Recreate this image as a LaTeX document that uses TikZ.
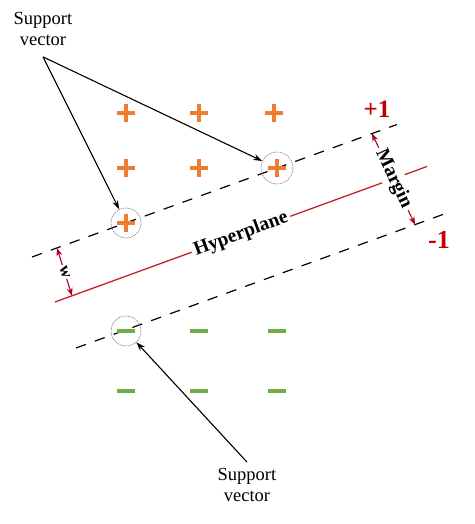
\documentclass[tikz,border=0pt]{standalone}
\usepackage{fontspec}
\setmainfont{Liberation Serif}
\usetikzlibrary{arrows.meta}
\definecolor{plusc}{HTML}{ED7D31}
\definecolor{minusc}{HTML}{70AD47}
\definecolor{hypc}{HTML}{C8202A}
\definecolor{dimc}{HTML}{B00020}
\definecolor{labc}{HTML}{C00000}
\tikzset{
  plusmark/.style={minimum size=18pt, inner sep=0pt, path picture={
    \fill[plusc] ([yshift=-2.3pt]path picture bounding box.west) rectangle ([yshift=2.3pt]path picture bounding box.east);
    \fill[plusc] ([xshift=-2.3pt]path picture bounding box.south) rectangle ([xshift=2.3pt]path picture bounding box.north);}},
  minusmark/.style={rectangle, minimum width=18pt, minimum height=4.2pt, inner sep=0pt, fill=minusc},
  svcircle/.style={circle, draw=gray, line width=0.6pt, dash pattern=on 1.5pt off 0.8pt, minimum size=#1, inner sep=0pt},
  svcircle/.default=30pt,
  margline/.style={draw=black, line width=1.2pt, dash pattern=on 10.5pt off 9.5pt},
  hypline/.style={draw=hypc, line width=1.3pt},
  svarrow/.style={draw=black, line width=1.1pt, -{Stealth[length=9pt,width=6pt]}},
  dimarrow/.style={draw=dimc, line width=1.1pt, {Stealth[length=8pt,width=6pt]}-{Stealth[length=8pt,width=6pt]}},
  svlabel/.style={align=center, font=\fontsize{18.5}{21}\selectfont, inner sep=2pt},
  boldlab/.style={font=\fontsize{19.5}{21}\selectfont\bfseries, fill=white, inner sep=3pt},
  classlab/.style={text=labc, inner sep=0pt}
}
\begin{document}
\begin{tikzpicture}[x=1pt, y=-1pt]
\useasboundingbox (0,0) rectangle (474,524);
% points of the lines
\coordinate (t1) at (32,257);   \coordinate (t2) at (397,124.5);
\coordinate (b1) at (76,348);   \coordinate (b2) at (447,213);
\coordinate (h1) at (55,302);   \coordinate (h2) at (427,166.5);
% lines
\draw[margline] (t1) -- (t2);
\draw[margline] (b1) -- (b2);
\draw[hypline] (h1) -- (h2);
\node[boldlab, rotate=20] (hyp) at (241,234.3) {Hyperplane};
% plus class
\node[plusmark] (p1) at (126,113) {};
\node[plusmark] (p2) at (199,113) {};
\node[plusmark] (p3) at (274,113) {};
\node[plusmark] (p4) at (126,168) {};
\node[plusmark] (p5) at (199,168) {};
\node[plusmark] (p6) at (277,168) {};
\node[plusmark] (p7) at (126,223) {};
% minus class
\node[minusmark] (m1) at (126,331) {};
\node[minusmark] (m2) at (199,331) {};
\node[minusmark] (m3) at (277,331) {};
\node[minusmark] (m4) at (126,391) {};
\node[minusmark] (m5) at (199,391) {};
\node[minusmark] (m6) at (277,391) {};
% support vector circles
\node[svcircle=30pt] (c1) at (126,223) {};
\node[svcircle=32pt] (c2) at (277,168) {};
\node[svcircle=30pt] (c3) at (126,331) {};
% labels
\node[svlabel] (sv1) at (43,29) {Support\\vector};
\node[svlabel] (sv2) at (247,485) {Support\\vector};
\draw[svarrow] ([yshift=-9pt]sv1.south) -- (c1);
\draw[svarrow] ([yshift=-9pt]sv1.south) -- (c2);
\draw[svarrow] ([yshift=4pt]sv2.north) -- (c3);
% margin
\coordinate (mt) at (372,133.5);
\coordinate (mb) at (415,224.7);
\draw[dimarrow] (mt) -- node[boldlab, sloped] (marg) {Margin} (mb);
\coordinate (wt) at (57,248);
\coordinate (wb) at (72,295.8);
\draw[dimarrow] (wt) -- node[sloped, fill=white, inner sep=1pt, font=\fontsize{17}{17}\selectfont\bfseries] (wl) {w} (wb);
\node[classlab, font=\fontsize{25}{25}\selectfont\bfseries] (pl) at (377,109.5) {+1};
\node[classlab, font=\fontsize{26}{26}\selectfont\bfseries] (ml) at (439,240) {-1};
\end{tikzpicture}
\end{document}
